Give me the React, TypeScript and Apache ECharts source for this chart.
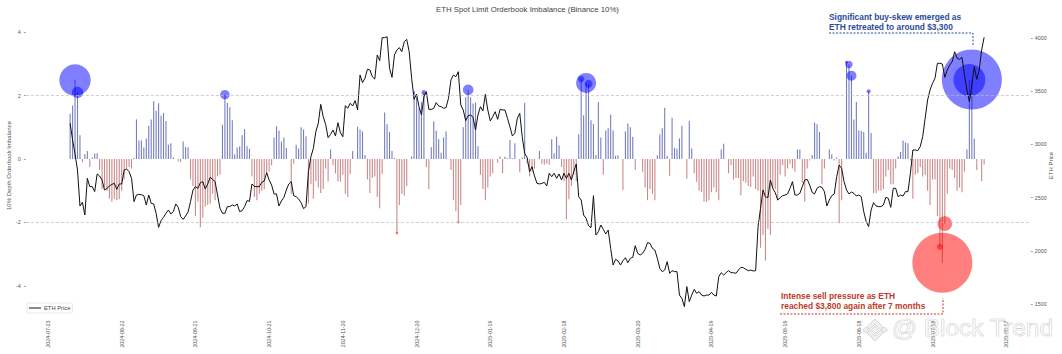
import React, { useEffect, useRef } from "react";
import * as echarts from "echarts";

const FONT = "Liberation Sans, Arial, sans-serif";
const firstAxisDay = Date.UTC(2024, 6, 14);
const axisDayCount = 410;
const dataOffset = 18;
const tickLabels = ["2024-07-23","2024-08-22","2024-09-21","2024-10-21","2024-11-20","2024-12-20","2025-01-19","2025-02-18","2025-03-20","2025-04-19","2025-05-19","2025-06-18","2025-07-18","2025-08-17"];
const imbalanceTicks = [-4, -2, 0, 2, 4];
const priceTicks = [1500, 2000, 2500, 3000, 3500, 4000];

const imbalance = [
1.43,1.69,2.49,2.1,0.75,-0.1,0.15,0.25,-0.25,0.05,0.17,0.18,-0.35,-0.95,-0.9,-1.0,-1.25,-1.35,-1.25,-1.3,-1.27,-1.0,-0.65,-0.3,-0.25,-0.3,0.03,1.25,0.58,0.58,0.36,0.65,1.05,1.25,1.82,1.52,1.76,1.37,1.45,1.2,0.45,0.5,0.05,0,-0.08,-0.1,0.55,0.38,0.37,
-0.65,-0.85,-1.8,-1.35,-2.15,-1.85,-1.5,-1.45,-1.4,-1.1,-1.3,-0.55,-0.5,1.08,2.03,1.77,1.63,1.22,0.15,0.36,0.4,0.75,0.95,0.4,0.32,-0.55,-1.2,-1.3,-1.1,-1.0,-0.95,-0.5,-0.4,-0.2,0.68,1.03,0.9,0.55,0.68,0.35,0,-1.1,-0.15,0.45,0.33,1.0,0.93,0.72,-1.4,-0.8,-1.25,-0.7,-0.9,-1.07,-0.95,-0.3,-0.7,0.3,-0.2,-0.45,-0.7,-0.72,-0.5,-1.1,-1.2,-0.47,0.25,0,
1.02,0.93,0.87,0.13,-0.65,-1.07,-0.6,-0.55,-1.2,-1.55,-0.47,1.47,1.1,0.85,0.25,0.03,-2.34,-1.45,-1.1,-1.15,-0.85,0,0.08,2.1,1.95,1.6,1.8,2.1,-0.25,-0.95,0.37,1.18,0.9,0.63,0.2,0.68,0.87,0,-0.35,-1.3,-1.65,-2.0,-1.45,1.0,1.95,2.18,1.95,1.75,1.78,0.4,-0.5,-0.95,-1.3,-0.9,-0.55,-0.45,0,-0.12,0.08,-0.45,0.07,0.02,0.6,0.02,0.5,0,-0.42,0.05,1.77,-0.15,-0.55,-0.4,-0.3,0,0.25,-0.15,-0.18,-0.15,-0.18,0.62,0.18,0.7,0.43,-0.25,-0.7,-1.9,-1.27,-0.85,-0.5,-0.7,0.78,2.52,1.38,2.4,2.37,1.22,1.1,0.13,1.8,0.68,-0.5,0.9,0.97,1.4,0.9,0.1,0.12,0,-0.98,0.87,1.12,1.0,0.7,-0.35,0,0,-0.4,-0.9,-1.3,-0.95,-1.1,-1.3,0.12,0.77,0.97,1.62,0.1,-0.53,1.3,0.35,0.32,0.65,1.05,0,-0.62,1.2,0.33,-0.45,-0.72,-1.0,-1.05,-1.35,-1.35,-1.3,-1.05,-0.9,-1.05,-1.3,0.3,0.48,0,-0.45,-0.2,-0.65,-0.6,-0.6,-1.15,-0.7,-0.75,-0.85,-0.88,-0.55,-0.95,-1.0,-2.8,-2.4,-3.2,-2.2,-2.4,-0.9,-0.95,-1.3,-0.5,-0.2,-0.55,-0.3,-0.15,-0.3,-0.4,0.3,0.3,-0.75,-1.35,-0.3,-0.05,0.13,1.15,1.1,0.85,-0.8,-0.3,0,0.3,0.15,-0.05,0.05,-2.03,-1.3,0,3.05,2.98,2.63,1.25,1.8,0.9,0.88,0.85,0.2,2.14,0.82,-1.07,-1.07,-1.0,-1.0,-0.95,-0.55,-0.35,-0.8,-0.8,-0.3,0.08,0.22,0.58,0.52,0.5,-0.05,-1.25,-0.5,-0.45,-0.25,-0.55,-0.5,-1.0,-1.45,-0.65,-0.65,-1.8,-2.77,-3.27,-2.04,-1.1,-0.3,-0.35,-0.6,-1.0,-0.9,-1.05,-0.4,0.3,2.49,2.51,0.65,-0.35,0,-0.7,-0.17];

const ethPrice = [
3198,3041,2910,2759,2421,2455,2336,2681,2603,2603,2556,2722,2703,2665,2571,2587,2609,2624,2634,2577,2628,2628,2759,2769,2744,2681,2462,2524,2530,2527,2518,2430,2524,2446,2440,2352,2220,2283,2314,2352,2383,2346,2368,2440,2408,2321,2295,2327,2364,2462,2571,2603,2587,2640,2650,2581,2628,2690,2671,2650,2524,2399,2352,2352,2415,2415,2430,2421,2440,2368,2377,2415,2471,2465,2628,2603,2603,2603,2643,2656,2734,2665,2618,2534,2534,2421,2468,2502,2571,2628,2650,2518,2508,2487,2452,2396,2415,2744,2884,2963,3119,3198,3376,3260,3188,3063,3094,3135,3079,3204,3110,3072,3364,3339,3386,3361,3411,3323,
3652,3580,3621,3705,3699,3636,3614,3840,3787,4003,4003,4012,3715,3630,3840,3887,3909,3871,3965,3987,3871,3621,3423,3473,3354,3276,3448,3495,3329,3329,3339,3392,3361,3354,3339,3345,3433,3605,3652,3636,3683,3370,3323,3223,3270,3276,3254,3135,3276,3354,3314,3470,3323,3220,3260,3307,3235,3329,3323,3323,3245,3166,3079,3104,3245,3292,3072,2916,2878,2744,2790,2703,2634,2628,2634,2643,2609,2728,2696,2728,2681,2722,2665,2728,2681,2728,2665,2744,2816,2508,2477,2336,2305,2236,2217,2518,2148,2179,2242,2201,2158,2195,2023,1866,1920,1904,1866,1907,1935,1888,1929,1938,2048,1976,1960,1976,2013,2076,2070,2023,2007,1929,1835,1804,1819,1898,1788,1813,1804,1804,1584,1553,1475,1663,1522,1584,1637,1600,1616,1584,1575,1584,1584,1609,1584,1575,1757,1794,1772,1794,1813,1794,1794,1788,1819,1844,1841,1826,1813,1819,1810,1813,2227,2399,2571,2508,2499,2665,2587,2546,2477,2499,2518,2524,2534,2587,2650,2524,2524,2540,2603,2665,2671,2618,2549,2534,2587,2603,2596,2556,2421,2477,2518,2534,2696,2806,2775,2650,2571,2534,2552,2540,2515,2524,2508,2368,2274,2227,2383,2452,2421,2415,2415,2430,2502,2493,2408,2587,2587,2508,2524,2515,2556,2556,2728,2947,2947,2941,2979,3072,3245,3417,3511,3574,3621,3762,3762,3755,3630,3699,3746,3777,3871,3809,3799,3818,3652,3511,3401,3558,3730,3611,3699,3887,4006];

const highlightDays = [2, 3, 63, 133, 140, 144, 158, 162, 208, 210, 211, 316, 317, 318, 325, 354, 355, 356, 366, 367];

export default function App() {
  const ref = useRef<HTMLDivElement>(null);
  useEffect(() => {
    document.body.style.margin = "0";
    const chart = echarts.init(ref.current!, undefined, { renderer: "svg" });
    const categories = Array.from({ length: axisDayCount }, (_, i) => new Date(firstAxisDay + i * 864e5).toISOString().slice(0, 10));
    const pad = (arr: number[]) => {
      const out: (number | null)[] = new Array(axisDayCount).fill(null);
      arr.forEach((v, i) => (out[i + dataOffset] = v));
      return out;
    };
    const radius: Record<number, number> = { 2: 15.7, 3: 5.7, 63: 4.7, 133: 1.3, 140: 1, 144: 2.5, 158: 1.2, 162: 5.3, 208: 3.2, 210: 10, 211: 4, 316: 1.5, 317: 3.7, 318: 5, 325: 2, 354: 3, 355: 30, 356: 7.3, 366: 16, 367: 30 };
    const bubbles = highlightDays.map((d) => ({
      value: [d + dataOffset, imbalance[d]],
      symbolSize: radius[d] * 2,
      itemStyle: { color: imbalance[d] > 0 ? "rgba(0,0,255,0.5)" : "rgba(255,0,0,0.5)", opacity: 1 },
    }));
    const gray = "#555";
    const wm = "rgba(185,185,185,0.9)";
    const wmFill = "rgba(235,235,235,0.75)";
    const diamond = (cx: number, cy: number, h: number) => ({
      type: "polygon", z: 10,
      shape: { points: [[cx, cy - h], [cx + h, cy], [cx, cy + h], [cx - h, cy]] },
      style: { fill: wmFill, stroke: wm, lineWidth: 0.6 },
    });
    const chevron = (cx: number, cy: number, dir: number) => ({
      type: "polygon", z: 10,
      shape: { points: [[cx - 8, cy], [cx, cy - 8 * dir], [cx + 8, cy], [cx + 5.5, cy + 2.5 * dir], [cx, cy - 3 * dir], [cx - 5.5, cy + 2.5 * dir]] },
      style: { fill: wmFill, stroke: wm, lineWidth: 0.6 },
    });
    const axisTitle = (text: string, x: number) => ({
      type: "text", x, y: 165.5, rotation: Math.PI / 2,
      style: { text, fill: gray, font: `6px ${FONT}`, textAlign: "center", textVerticalAlign: "middle" },
    });
    chart.setOption({
      animation: false,
      backgroundColor: "#fff",
      textStyle: { fontFamily: FONT },
      title: { text: "ETH Spot Limit Orderbook Imbalance (Binance 10%)", left: 527.5, top: 5, padding: 0, textAlign: "center", textStyle: { fontSize: 7.8, fontWeight: "normal", color: "#444", fontFamily: FONT } },
      legend: {
        left: 27, top: 303, padding: [2, 2, 2, 2], itemWidth: 12, itemHeight: 1, itemGap: 2,
        borderColor: "#ddd", borderWidth: 0.7, borderRadius: 1,
        data: [{ name: "ETH Price", icon: "rect", itemStyle: { color: "#111" } }],
        textStyle: { fontSize: 5.8, color: "#444", fontFamily: FONT, padding: [0, 0, 0, -2] },
      },
      grid: { left: 25.9, width: 1004.9, top: 0.5, height: 317, outerBoundsMode: "none", containLabel: false },
      xAxis: {
        type: "category", data: categories, boundaryGap: false, containShape: false,
        axisLine: { show: false }, axisTick: { show: false }, splitLine: { show: false },
        axisLabel: { rotate: 90, fontSize: 5.3, color: gray, margin: 3, interval: (_: number, v: string) => tickLabels.includes(v), fontFamily: FONT },
      },
      yAxis: [
        {
          type: "value", min: -5, max: 5,
          axisLine: { show: false }, splitLine: { show: false },
          axisTick: { show: true, length: 2, customValues: imbalanceTicks, lineStyle: { color: "#666", width: 0.6 } },
          axisLabel: { customValues: imbalanceTicks, fontSize: 5.5, color: gray, margin: 5, fontFamily: FONT },
        },
        {
          type: "value", min: 1373, max: 4352, position: "right",
          axisLine: { show: false }, splitLine: { show: false },
          axisTick: { show: true, length: 2, customValues: priceTicks, lineStyle: { color: "#666", width: 0.6 } },
          axisLabel: { customValues: priceTicks, fontSize: 5.3, color: gray, margin: 4, fontFamily: FONT, formatter: (v: number) => String(v) },
        },
      ],
      series: [
        {
          name: "Imbalance", type: "bar", yAxisIndex: 0, barWidth: 1.1, z: 2,
          data: pad(imbalance),
          itemStyle: { color: (p: any) => (p.value > 0 ? "rgba(52,66,160,0.68)" : "rgba(170,58,58,0.6)") },
          markLine: {
            silent: true, symbol: "none", label: { show: false },
            lineStyle: { color: "#bbb", type: [3, 2], width: 0.7 },
            data: [{ yAxis: 2 }, { yAxis: -2 }],
          },
        },
        { name: "Bubbles", type: "scatter", yAxisIndex: 0, z: 3, data: bubbles, itemStyle: { borderWidth: 0 } },
        {
          name: "ETH Price", type: "line", yAxisIndex: 1, z: 4, data: pad(ethPrice), showSymbol: false, symbol: "none",
          connectNulls: false, lineStyle: { color: "#111", width: 1 },
        },
      ],
      graphic: [
        axisTitle("10% Depth Orderbook Imbalance", 9),
        axisTitle("ETH Price", 1051),
        { type: "text", x: 829, y: 12.5, style: { text: "Significant buy-skew emerged as", fill: "#2b4a9b", font: `bold 8.4px ${FONT}` } },
        { type: "text", x: 829, y: 22.5, style: { text: "ETH retreated to around $3,300", fill: "#2b4a9b", font: `bold 8.4px ${FONT}` } },
        { type: "polyline", shape: { points: [[829, 33], [973, 33], [973, 45]] }, style: { stroke: "#2b4a9b", lineWidth: 1, lineDash: [2, 1.5], fill: "none" } },
        { type: "text", x: 781, y: 292, style: { text: "Intense sell pressure as ETH", fill: "#c0392b", font: `bold 8.4px ${FONT}` } },
        { type: "text", x: 781, y: 302, style: { text: "reached $3,800 again after 7 months", fill: "#c0392b", font: `bold 8.4px ${FONT}` } },
        { type: "polyline", shape: { points: [[780, 314], [943, 314], [943, 298]] }, style: { stroke: "#c0392b", lineWidth: 1, lineDash: [2, 1.5], fill: "none" } },
        { type: "text", x: 892, y: 315, z: 10, style: { text: "@ Block Trend", fill: "rgba(255,255,255,0.4)", stroke: wm, lineWidth: 0.6, font: `24.5px ${FONT}` } },
        diamond(875, 330, 4),
        diamond(865.5, 330, 3),
        diamond(884.5, 330, 3),
        chevron(875, 327, 1),
        chevron(875, 333, -1),
      ],
    });
    return () => chart.dispose();
  }, []);
  return <div ref={ref} style={{ width: 1062, height: 354 }} />;
}
